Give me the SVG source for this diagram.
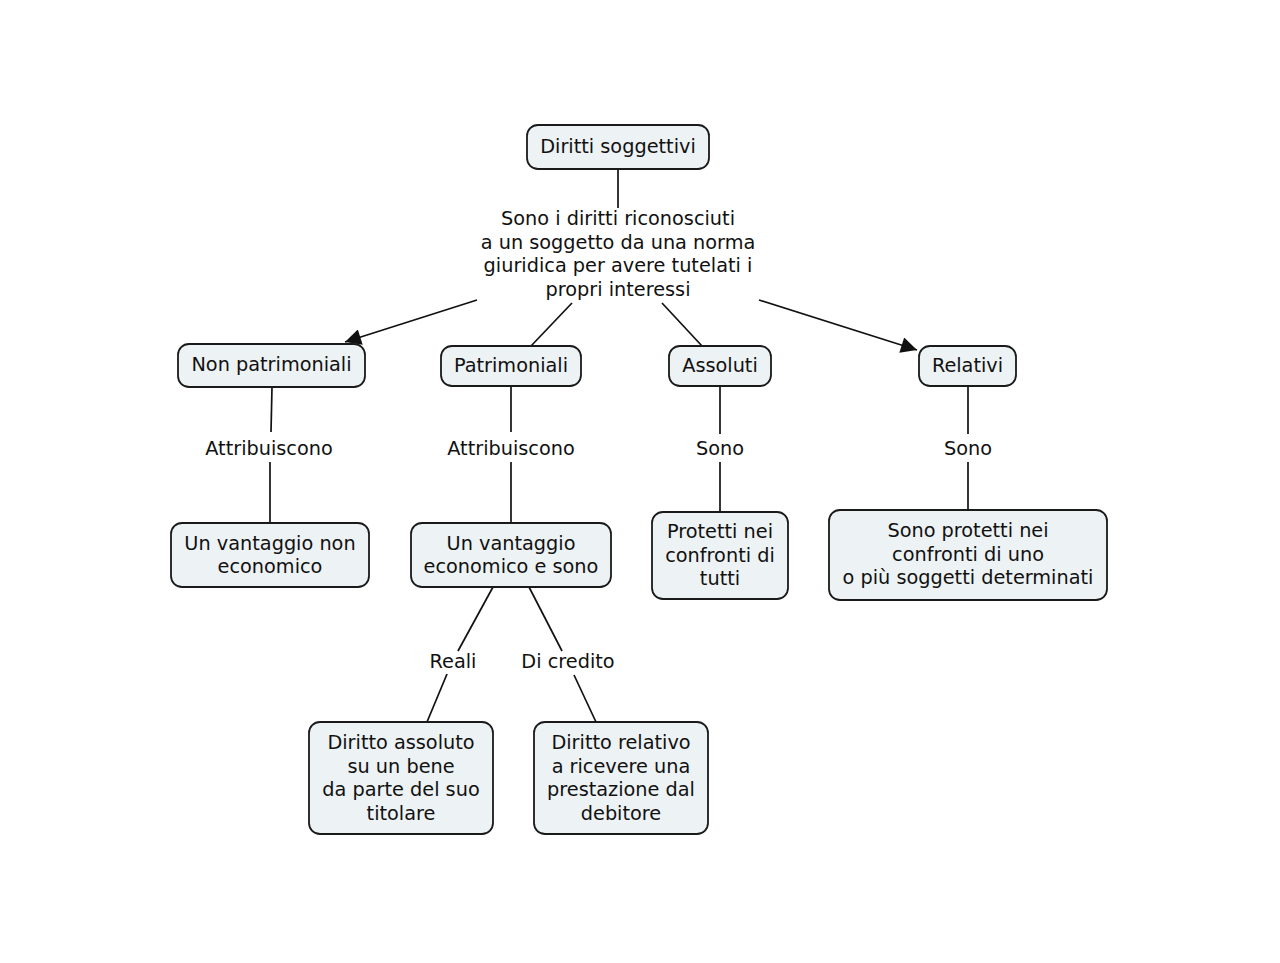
<svg xmlns="http://www.w3.org/2000/svg" width="1280" height="963" viewBox="0 0 1280 963">
<style>
.n rect{fill:#edf2f4;stroke:#1a1a1a;stroke-width:1.8}
text{font-family:"DejaVu Sans",Verdana,sans-serif;font-size:19.3px;fill:#111;text-anchor:middle}
.c line{stroke:#111;stroke-width:1.7}
</style>
<defs>
<marker id="ah" viewBox="0 0 10 10" refX="10" refY="5" markerWidth="18" markerHeight="16" markerUnits="userSpaceOnUse" orient="auto"><path d="M0,0L10,5L0,10z" fill="#111"/></marker>
</defs>
<rect width="1280" height="963" fill="#fff"/>
<g class="c">
<line x1="618" y1="169" x2="618" y2="208"/>
<line x1="477" y1="300" x2="345" y2="342" marker-end="url(#ah)"/>
<line x1="572" y1="303" x2="531" y2="346"/>
<line x1="662" y1="303" x2="702" y2="346"/>
<line x1="759" y1="300" x2="917" y2="350" marker-end="url(#ah)"/>
<line x1="272" y1="387" x2="271" y2="432"/>
<line x1="270" y1="462" x2="270" y2="523"/>
<line x1="511" y1="386" x2="511" y2="432"/>
<line x1="511" y1="462" x2="511" y2="523"/>
<line x1="720" y1="386" x2="720" y2="434"/>
<line x1="720" y1="462" x2="720" y2="512"/>
<line x1="968" y1="386" x2="968" y2="434"/>
<line x1="968" y1="462" x2="968" y2="510"/>
<line x1="493" y1="587" x2="458" y2="651"/>
<line x1="447" y1="674" x2="427" y2="722"/>
<line x1="529" y1="587" x2="562" y2="651"/>
<line x1="574" y1="675" x2="596" y2="722"/>
</g>
<g id="lbl-main"><text x="618" y="225">Sono i diritti riconosciuti</text><text x="618" y="249">a un soggetto da una norma</text><text x="618" y="272">giuridica per avere tutelati i</text><text x="618" y="296">propri interessi</text></g>
<g id="lbl-attr1"><text x="269" y="455">Attribuiscono</text></g>
<g id="lbl-attr2"><text x="511" y="455">Attribuiscono</text></g>
<g id="lbl-sono1"><text x="720" y="455">Sono</text></g>
<g id="lbl-sono2"><text x="968" y="455">Sono</text></g>
<g id="lbl-reali"><text x="453" y="668">Reali</text></g>
<g id="lbl-credito"><text x="568" y="668">Di credito</text></g>
<g id="n-diritti" class="n"><rect x="527" y="125" width="182" height="44" rx="11"/><text x="618" y="153">Diritti soggettivi</text></g>
<g id="n-nonpatr" class="n"><rect x="178" y="344" width="187" height="43" rx="11"/><text x="271.5" y="371">Non patrimoniali</text></g>
<g id="n-patr" class="n"><rect x="441" y="346" width="140" height="40" rx="11"/><text x="511" y="372">Patrimoniali</text></g>
<g id="n-assoluti" class="n"><rect x="669" y="346" width="102" height="40" rx="11"/><text x="720" y="372">Assoluti</text></g>
<g id="n-relativi" class="n"><rect x="919" y="346" width="97" height="40" rx="11"/><text x="967.5" y="372">Relativi</text></g>
<g id="n-vantnon" class="n"><rect x="171" y="523" width="198" height="64" rx="11"/><text x="270" y="550">Un vantaggio non</text><text x="270" y="573">economico</text></g>
<g id="n-vanteco" class="n"><rect x="411" y="523" width="200" height="64" rx="11"/><text x="511" y="550">Un vantaggio</text><text x="511" y="573">economico e sono</text></g>
<g id="n-protetti" class="n"><rect x="652" y="512" width="136" height="87" rx="11"/><text x="720" y="538">Protetti nei</text><text x="720" y="562">confronti di</text><text x="720" y="585">tutti</text></g>
<g id="n-sonoprot" class="n"><rect x="829" y="510" width="278" height="90" rx="11"/><text x="968" y="537">Sono protetti nei</text><text x="968" y="561">confronti di uno</text><text x="968" y="584">o più soggetti determinati</text></g>
<g id="n-dirass" class="n"><rect x="309" y="722" width="184" height="112" rx="11"/><text x="401" y="749">Diritto assoluto</text><text x="401" y="773">su un bene</text><text x="401" y="796">da parte del suo</text><text x="401" y="820">titolare</text></g>
<g id="n-dirrel" class="n"><rect x="534" y="722" width="174" height="112" rx="11"/><text x="621" y="749">Diritto relativo</text><text x="621" y="773">a ricevere una</text><text x="621" y="796">prestazione dal</text><text x="621" y="820">debitore</text></g>
</svg>
